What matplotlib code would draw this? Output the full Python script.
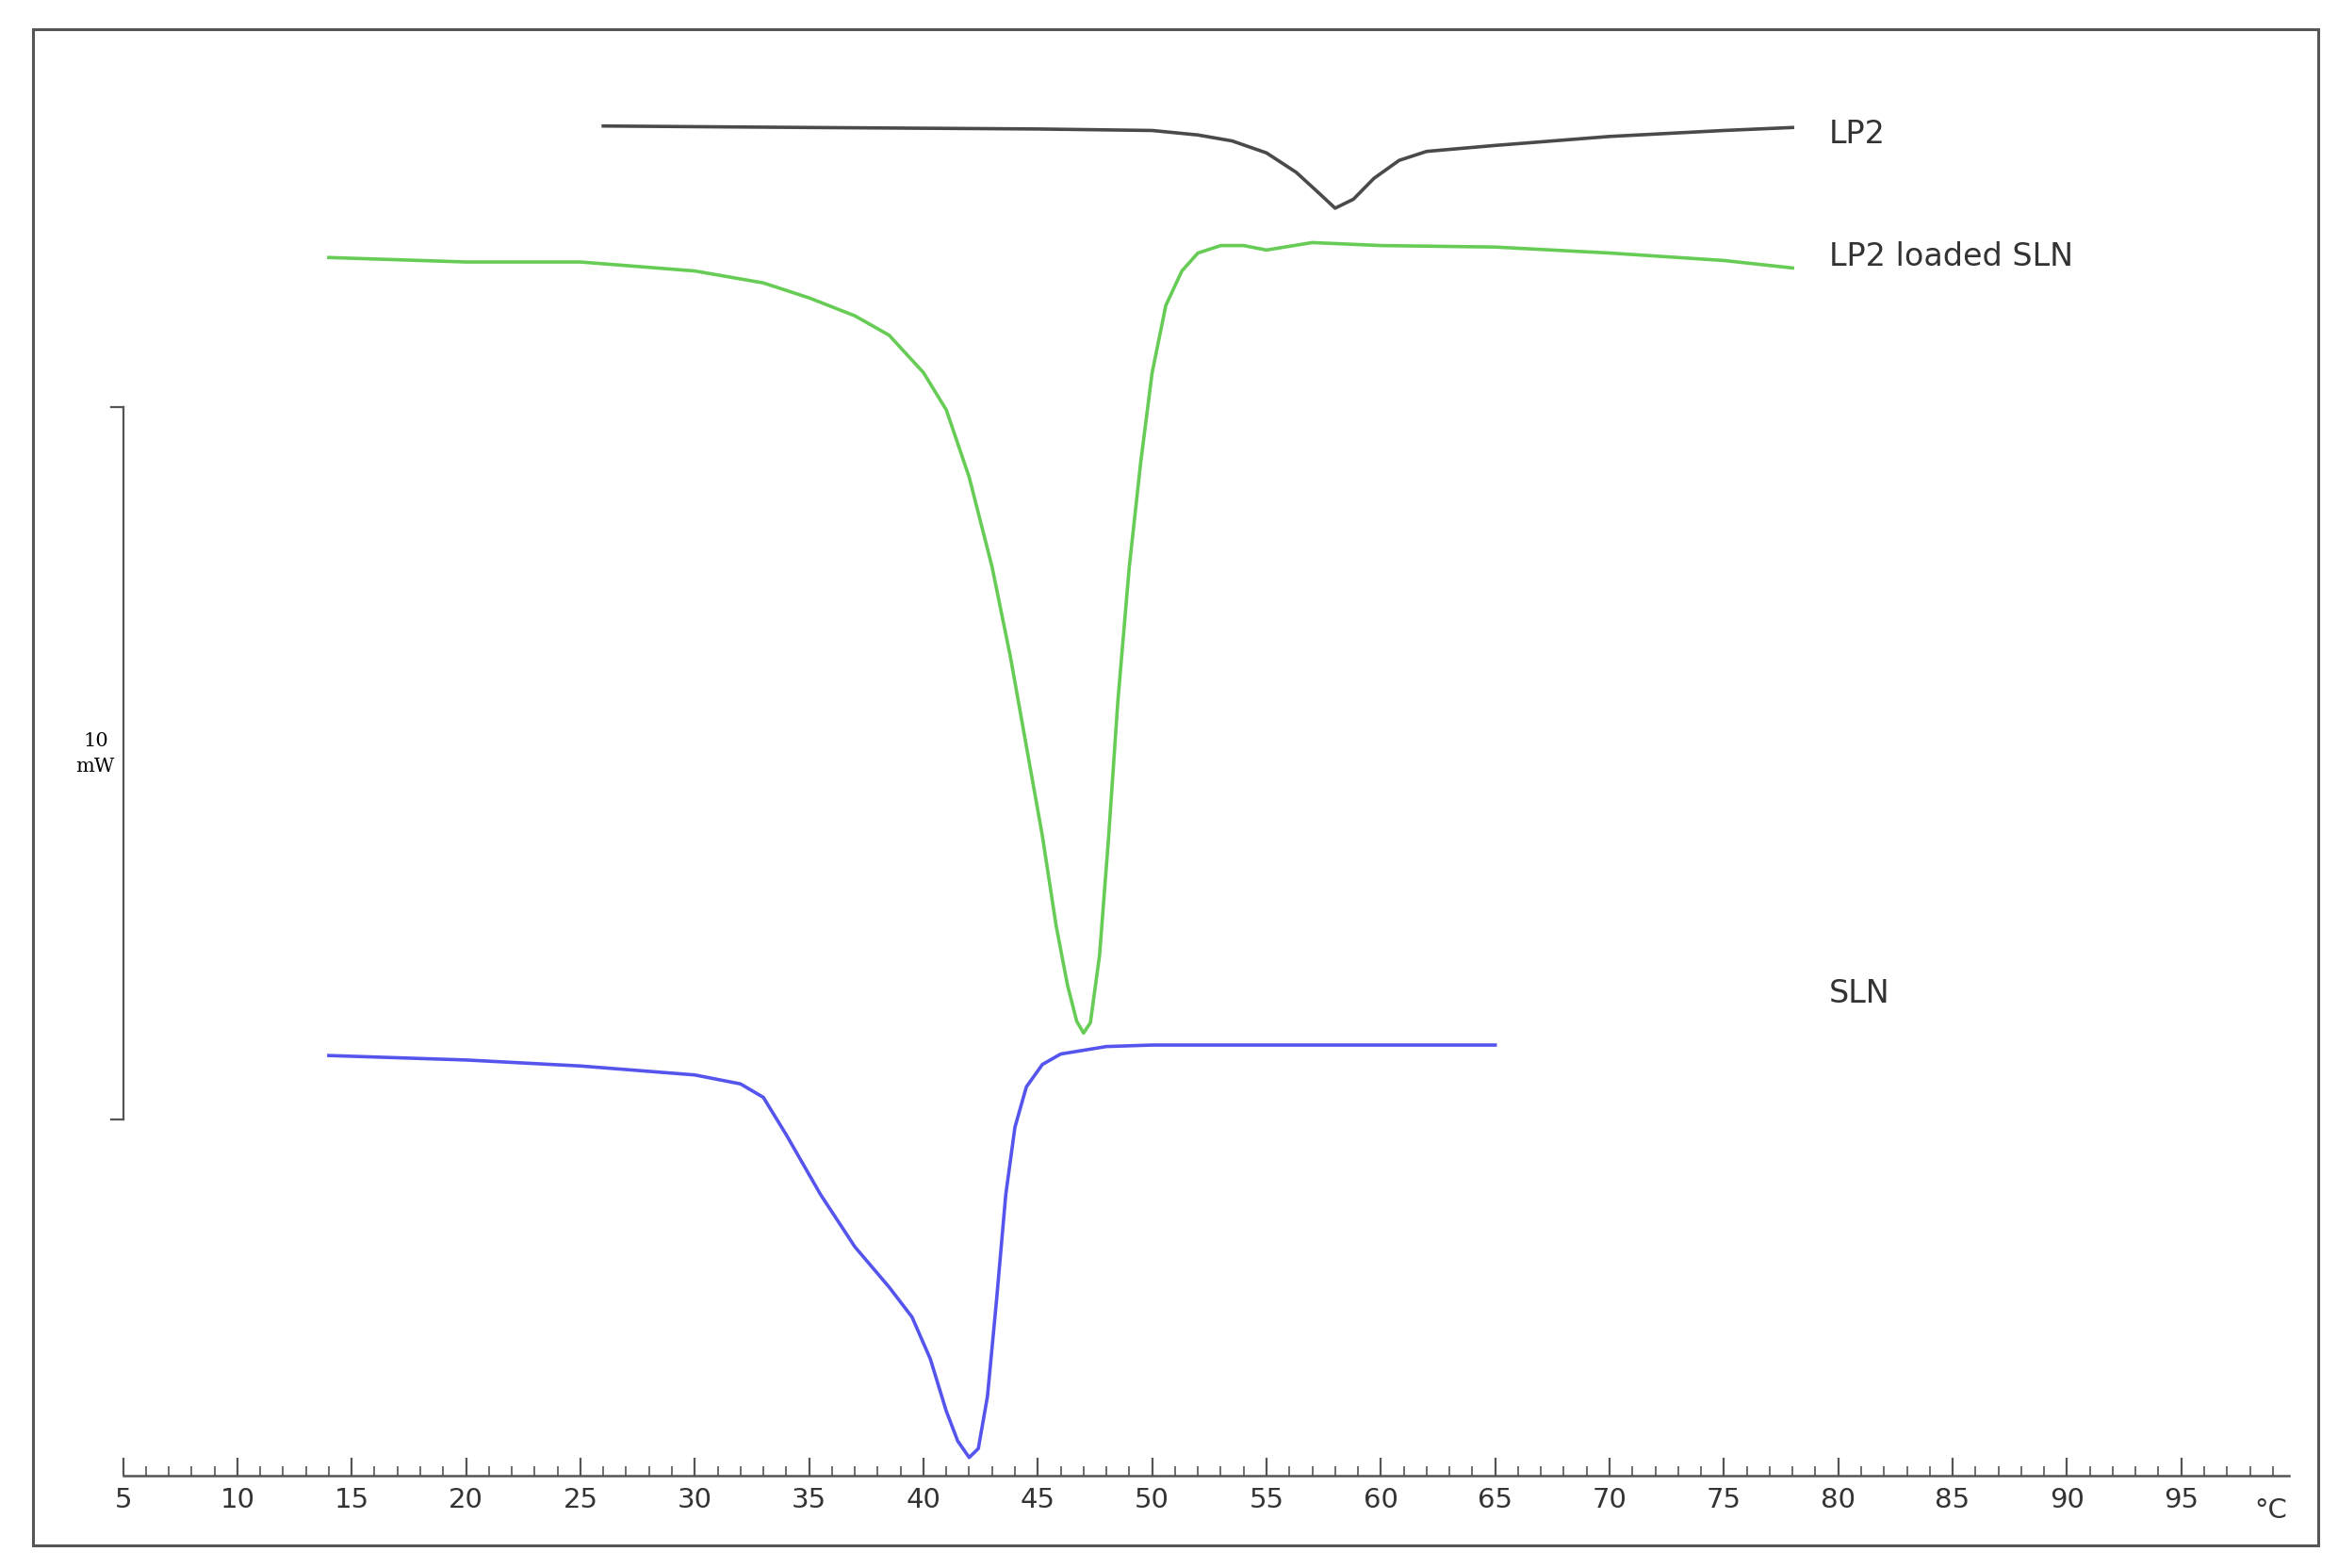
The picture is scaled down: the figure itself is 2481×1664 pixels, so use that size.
import matplotlib
matplotlib.use("Agg")
import matplotlib.pyplot as plt
from matplotlib.patches import Rectangle

lp2_T = [26, 35, 45, 50, 52, 53.5, 55, 56.3, 57.3, 58, 58.8, 59.7, 60.8, 62, 65, 70, 75, 78]
lp2_px = [85, 86, 87, 88, 91, 95, 103, 116, 130, 140, 134, 120, 108, 102, 98, 92, 88, 86]
g_T = [14, 20, 25, 30, 33, 35, 37, 38.5, 40, 41, 42, 43, 43.8, 44.5, 45.2, 45.8, 46.3, 46.7, 47, 47.3, 47.7, 48.1, 48.5, 49, 49.5, 50, 50.6, 51.3, 52, 53, 54, 55, 57, 60, 65, 70, 75, 78]
g_px = [173, 176, 176, 182, 190, 200, 212, 225, 250, 275, 320, 380, 440, 500, 560, 620, 660, 684, 692, 685, 640, 560, 470, 380, 310, 250, 205, 182, 170, 165, 165, 168, 163, 165, 166, 170, 175, 180]
b_T = [14, 20, 25, 30, 32, 33, 34, 35.5, 37, 38.5, 39.5, 40.3, 41, 41.5, 42, 42.4, 42.8, 43.2, 43.6, 44, 44.5, 45.2, 46, 48, 50, 55, 65]
b_px = [707, 710, 714, 720, 726, 735, 760, 800, 835, 862, 882, 910, 945, 965, 976, 970, 935, 870, 800, 755, 728, 713, 706, 701, 700, 700, 700]
xticks_major = list(range(5, 100, 5))

def mw(px):
    return [(988 - p) / 47.7 for p in px]

fig = plt.figure(figsize=(24.81, 16.65), dpi=100)
fig.patches.append(Rectangle((0.0141, 0.0143), 0.9776, 0.9667, transform=fig.transFigure,
                             fill=False, lw=2.2, ec="#555555"))
xmax = 99.7
ax = fig.add_axes([0.0526, 0.059, (xmax - 5) * 15.26 / 1560, 0.922])
ax.set_xlim(5, xmax)
ax.set_ylim(0, (988 - 20) / 47.7)
for s in ["top", "right", "left"]:
    ax.spines[s].set_visible(False)
ax.spines["bottom"].set_color("#555555")
ax.spines["bottom"].set_linewidth(1.8)
ax.set_yticks([])
ax.set_xticks(xticks_major)
ax.set_xticks(range(5, 100), minor=True)
ax.tick_params(axis="x", which="major", direction="in", length=14, width=1.6, colors="#555555",
               labelsize=21, labelcolor="#333333", pad=8)
ax.tick_params(axis="x", which="minor", direction="in", length=7, width=1.2, colors="#555555")
ax.text(98.9, -0.3, "°C", fontsize=21, color="#333333", ha="center", va="top")

ax.plot(lp2_T, mw(lp2_px), color="#4a4a4a", lw=2.6, solid_joinstyle="round")
ax.plot(g_T, mw(g_px), color="#66cc55", lw=2.6, solid_joinstyle="round")
ax.plot(b_T, mw(b_px), color="#5555ee", lw=2.6, solid_joinstyle="round")

fs = 24
ax.text(79.6, (988 - 90) / 47.7, "LP2", fontsize=fs, color="#333333", va="center")
ax.text(79.6, (988 - 172) / 47.7, "LP2 loaded SLN", fontsize=fs, color="#333333", va="center")
ax.text(79.6, (988 - 665) / 47.7, "SLN", fontsize=fs, color="#333333", va="center")

y0, y1 = (988 - 750) / 47.7, (988 - 273) / 47.7
ax.plot([5, 5], [y0, y1], color="#555555", lw=1.6, clip_on=False)
ax.plot([4.5, 5], [y0, y0], color="#555555", lw=1.6, clip_on=False)
ax.plot([4.5, 5], [y1, y1], color="#555555", lw=1.6, clip_on=False)
ax.text(3.8, (y0 + y1) / 2 + 0.2, "10", fontsize=15, family="DejaVu Serif", ha="center", va="bottom")
ax.text(3.8, (y0 + y1) / 2 + 0.1, "mW", fontsize=15, family="DejaVu Serif", ha="center", va="top")

fig.savefig("out.png", dpi=100)
